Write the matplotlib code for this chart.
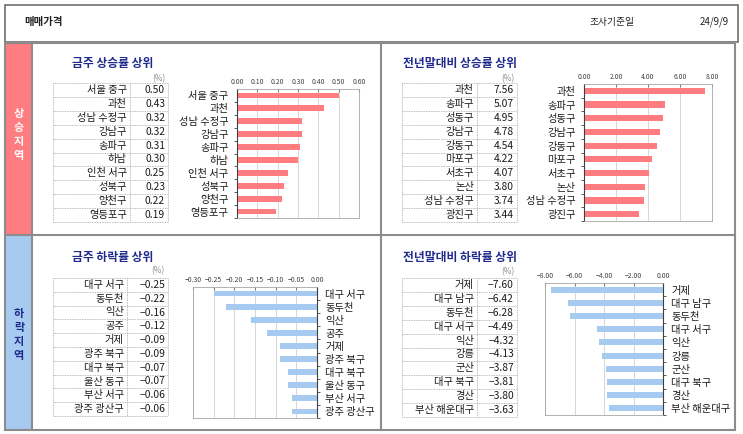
import numpy as np
import matplotlib.pyplot as plt
from matplotlib.patches import Rectangle

plt.rcParams['font.family'] = ['Noto Sans CJK KR', 'DejaVu Sans']

# data
week_up_names = ['서울 중구', '과천', '성남 수정구', '강남구', '송파구', '하남', '인천 서구', '성북구', '양천구', '영등포구']
week_up_vals = [0.50, 0.43, 0.32, 0.32, 0.31, 0.30, 0.25, 0.23, 0.22, 0.19]
year_up_names = ['과천', '송파구', '성동구', '강남구', '강동구', '마포구', '서초구', '논산', '성남 수정구', '광진구']
year_up_vals = [7.56, 5.07, 4.95, 4.78, 4.54, 4.22, 4.07, 3.80, 3.74, 3.44]
week_down_names = ['대구 서구', '동두천', '익산', '공주', '거제', '광주 북구', '대구 북구', '울산 동구', '부산 서구', '광주 광산구']
week_down_vals = [-0.25, -0.22, -0.16, -0.12, -0.09, -0.09, -0.07, -0.07, -0.06, -0.06]
year_down_names = ['거제', '대구 남구', '동두천', '대구 서구', '익산', '강릉', '군산', '대구 북구', '경산', '부산 해운대구']
year_down_vals = [-7.60, -6.42, -6.28, -4.49, -4.32, -4.13, -3.87, -3.81, -3.80, -3.63]

W, H = 743, 434
RED = '#FF7C80'
BLUE = '#A6CAF0'
NAVY = '#1F2A8C'
GRAY = '#8c8c8c'

fig = plt.figure(figsize=(W / 100, H / 100), dpi=100)
bg = fig.add_axes([0, 0, 1, 1])
bg.set_xlim(0, W)
bg.set_ylim(H, 0)
bg.axis('off')


def px_axes(x0, y0, x1, y1):
    return fig.add_axes([x0 / W, 1 - y1 / H, (x1 - x0) / W, (y1 - y0) / H])


def num(v):
    return f'{v:.2f}'.replace('-', '\u2212')


# frame
bg.add_patch(Rectangle((5, 5), 733, 37, fill=False, edgecolor='#707070', lw=1.2))
bg.add_patch(Rectangle((6, 43), 26, 192, facecolor=RED, edgecolor='none'))
bg.add_patch(Rectangle((6, 235), 26, 195, facecolor=BLUE, edgecolor='none'))
bg.add_patch(Rectangle((5, 43), 730, 387, fill=False, edgecolor=GRAY, lw=1.5))
bg.plot([32, 32], [43, 430], color=GRAY, lw=1.5)
bg.plot([381, 381], [43, 430], color=GRAY, lw=1.5)
bg.plot([5, 735], [235, 235], color=GRAY, lw=1.5)

bg.text(24, 22, '매매가격', fontsize=7.5, fontweight='bold', va='center', color='#222222')
bg.text(590, 22, '조사기준일', fontsize=7, va='center', color='#222222')
bg.text(729, 22, '24/9/9', fontsize=7, va='center', ha='right', color='#222222')

bg.text(19, 135, '상\n승\n지\n역', fontsize=8, fontweight='bold', color='white',
        ha='center', va='center', linespacing=1.1)
bg.text(19, 335, '하\n락\n지\n역', fontsize=8, fontweight='bold', color=NAVY,
        ha='center', va='center', linespacing=1.1)


def draw_table(x0, xs, x1, y0, y1, names, vals):
    n = len(names)
    h = (y1 - y0) / n
    ls = dict(color='#a6a6a6', lw=0.6, linestyle=(0, (1, 1)))
    for i in range(n + 1):
        bg.plot([x0, x1], [y0 + i * h] * 2, **ls)
    for x in (x0, xs, x1):
        bg.plot([x, x], [y0, y1], **ls)
    for i, (nm, v) in enumerate(zip(names, vals)):
        yc = y0 + (i + 0.5) * h
        bg.text(xs - 3, yc, nm, ha='right', va='center', fontsize=7.4, color='#1a1a1a')
        bg.text(x1 - 3, yc, num(v), ha='right', va='center', fontsize=7.4, color='#1a1a1a')


def draw_bars(rect, names, vals, color, xlim, step, side='left'):
    ax = px_axes(*rect)
    y = np.arange(len(names))
    ax.barh(y, vals, height=0.45, color=color, zorder=2)
    ax.set_ylim(len(names) - 0.5, -0.5)
    ax.set_xlim(*xlim)
    ticks = [round(t, 2) + 0.0 for t in np.arange(xlim[0], xlim[1] + step / 2, step)]
    ax.set_xticks(ticks)
    ax.set_xticklabels([num(t) for t in ticks], fontsize=4.9, color='#404040')
    ax.xaxis.tick_top()
    ax.tick_params(axis='x', direction='in', length=2, pad=2, color='#808080')
    ax.grid(axis='x', color='#d0d0d0', lw=0.6, zorder=0)
    ax.set_yticks(y)
    ax.set_yticklabels(names, fontsize=7.4, color='#1a1a1a')
    ax.set_yticks(np.arange(len(names)) + 0.5, minor=True)
    if side == 'right':
        ax.yaxis.tick_right()
        ax.yaxis.set_ticks_position('right')
    ax.tick_params(axis='y', which='major', length=0, pad=6)
    ax.tick_params(axis='y', which='minor', length=2, direction='out', color='#404040')
    for s in ax.spines.values():
        s.set_color('#a6a6a6')
        s.set_linewidth(0.6)
    ax.spines[side].set_color('#404040')
    ax.spines[side].set_linewidth(0.8)
    return ax


def draw_title(x, y, txt):
    bg.text(x, y, txt, fontsize=8.5, fontweight='bold', color=NAVY, va='center')


# top-left
draw_title(72, 64, '금주 상승률 상위')
bg.text(159, 79, '(%)', fontsize=6, color=GRAY, ha='center', va='center')
draw_table(53, 130, 168, 83, 222, week_up_names, week_up_vals)
draw_bars((237, 89, 359, 218), week_up_names, week_up_vals, RED, (0, 0.6), 0.1)

# top-right
draw_title(403, 64, '전년말대비 상승률 상위')
bg.text(508, 79, '(%)', fontsize=6, color=GRAY, ha='center', va='center')
draw_table(402, 477, 517, 83, 222, year_up_names, year_up_vals)
draw_bars((584, 84, 712, 221), year_up_names, year_up_vals, RED, (0, 8), 2)

# bottom-left
draw_title(72, 258, '금주 하락률 상위')
bg.text(158, 271, '(%)', fontsize=6, color=GRAY, ha='center', va='center')
draw_table(53, 127, 168, 278, 416, week_down_names, week_down_vals)
draw_bars((193, 287, 317, 418), week_down_names, week_down_vals, BLUE, (-0.3, 0), 0.05, side='right')

# bottom-right
draw_title(403, 258, '전년말대비 하락률 상위')
bg.text(508, 272, '(%)', fontsize=6, color=GRAY, ha='center', va='center')
draw_table(402, 477, 517, 278, 417, year_down_names, year_down_vals)
draw_bars((545, 283, 663, 415), year_down_names, year_down_vals, BLUE, (-8, 0), 2, side='right')

fig.savefig('out.png', dpi=100)
